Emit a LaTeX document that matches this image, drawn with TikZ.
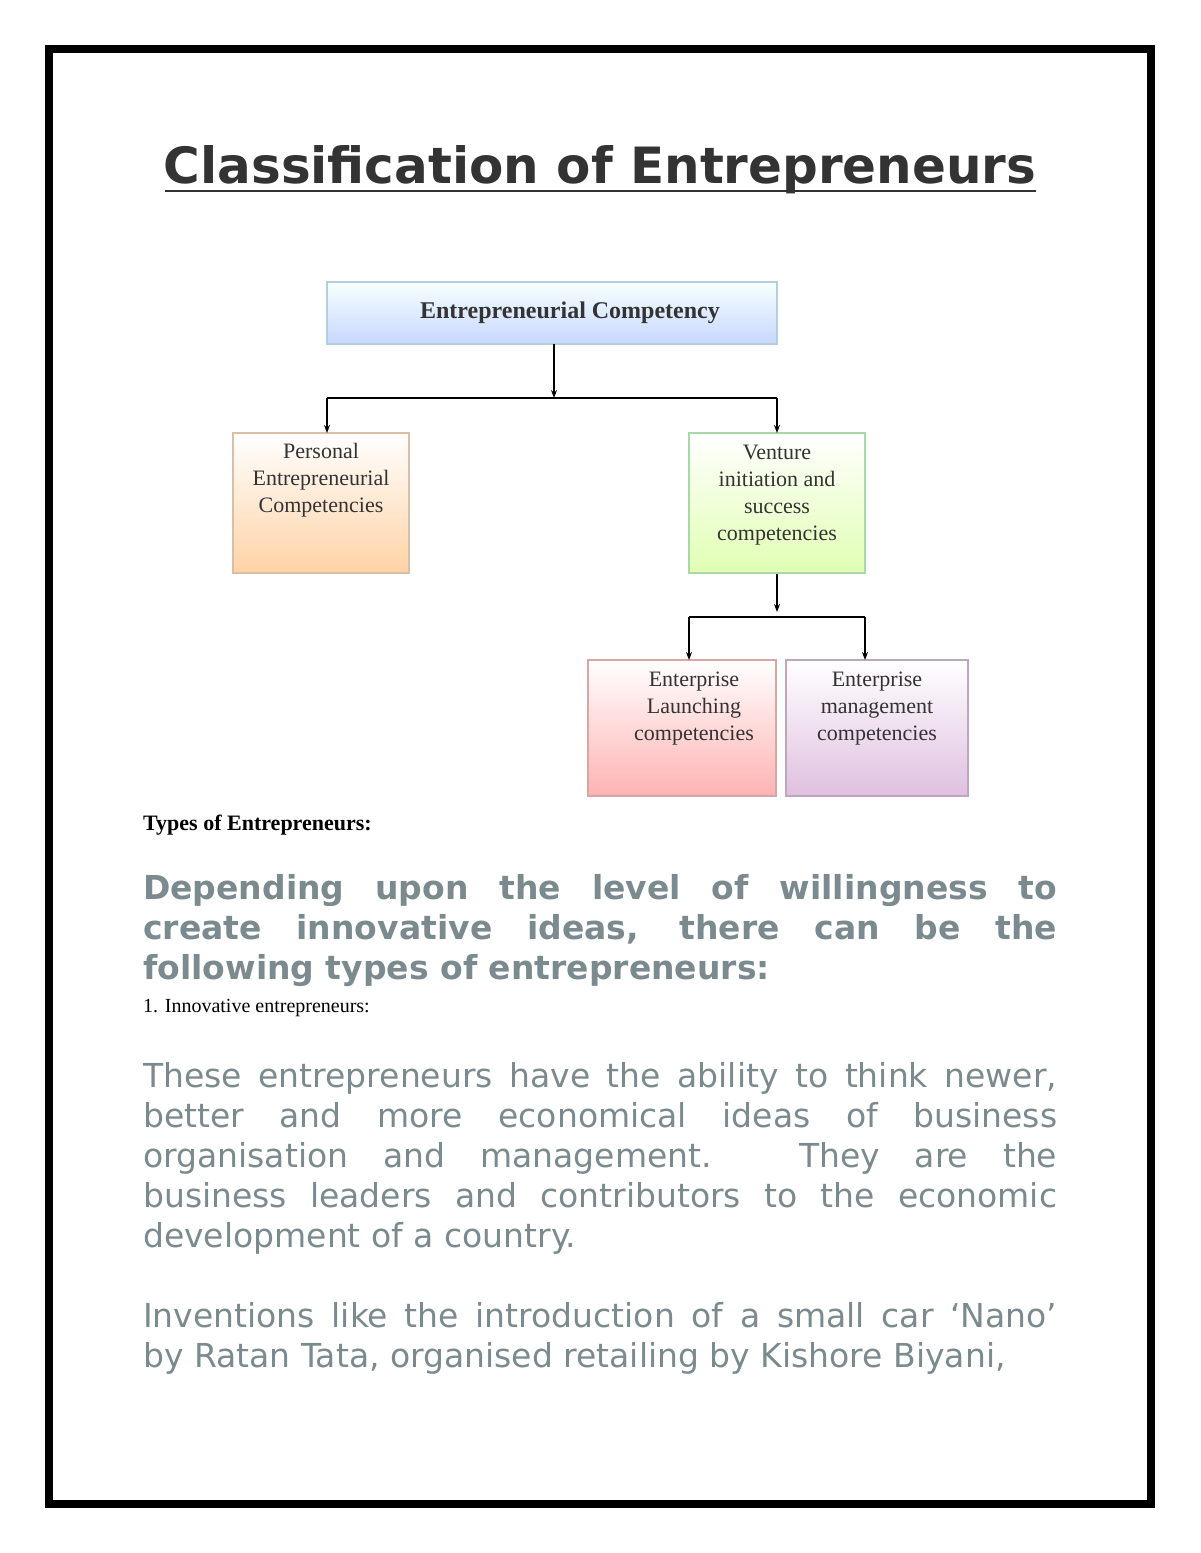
\documentclass[tikz,border=0pt]{standalone}
\usepackage{fontspec}
\setmainfont{Liberation Serif}
\newfontfamily\djv{DejaVu Sans}
\usetikzlibrary{arrows.meta}
\definecolor{gtxt}{HTML}{7B8A8E}
\tikzset{
 bx/.style={draw=#1, line width=1.5pt, minimum width=176pt, minimum height=140pt, align=center, font=\fontsize{22}{27}\selectfont, inner sep=0pt, text=black!80},
 arr/.style={-{Stealth[length=8pt,width=6pt]}, line width=1.3pt},
 ln/.style={line width=1.3pt}
}
\begin{document}
\begin{tikzpicture}[x=1pt,y=-1pt]
\useasboundingbox (0,0) rectangle (1200,1553);
\draw[line width=8pt] (49,49) rectangle (1151,1504);
\node[font=\djv\bfseries\fontsize{50}{55}\selectfont, text=black!80, inner sep=0pt] (title) at (600,170) {Classification of Entrepreneurs};
\draw[line width=2.5pt, black!80] (165,191) -- (1036,191);
% top box
\shade[top color=cyan!3, bottom color=cyan!30!blue!22] (327,282) rectangle (777,344);
\node[bx=cyan!40!gray!50, minimum width=450pt, minimum height=62pt, font=\bfseries\fontsize{24}{27}\selectfont] (top) at (552,313) {\hspace{36pt}Entrepreneurial Competency\vphantom{y}};
\shade[top color=white, bottom color=orange!35] (233,433) rectangle (409,573);
\node[bx=orange!40!gray!50] (pers) at (321,503) {};
\node[align=center, font=\fontsize{22}{27}\selectfont, text=black!80, anchor=north] (perst) at (321,440) {Personal\\Entrepreneurial\\Competencies};
\shade[top color=white, bottom color=green!40!yellow!30] (689,433) rectangle (865,573);
\node[bx=green!40!gray!50] (vent) at (777,503) {};
\node[align=center, font=\fontsize{22}{27}\selectfont, text=black!80] (ventt) at (777,495) {Venture\\initiation and\\success\\competencies};
\shade[top color=white, bottom color=red!30] (588,660) rectangle (776,796);
\node[bx=red!40!gray!50, minimum width=188pt, minimum height=136pt] (laun) at (682,728) {};
\node[align=center, font=\fontsize{22}{27}\selectfont, text=black!80, anchor=north] (launt) at (694,668) {Enterprise\\Launching\\competencies};
\shade[top color=white, bottom color=violet!25] (786,660) rectangle (968,796);
\node[bx=violet!40!gray!50, minimum width=182pt, minimum height=136pt] (mgmt) at (877,728) {};
\node[align=center, font=\fontsize{22}{27}\selectfont, text=black!80, anchor=north] (mgmtt) at (877,668) {Enterprise\\management\\competencies};
% connectors
\coordinate (j1) at (554,398);
\draw[arr] (554,344) -- (j1);
\draw[ln] (327,398) -- (777,398);
\draw[arr] (327,398) -- (327,433);
\draw[arr] (777,398) -- (777,433);
\coordinate (j2) at (777,612);
\draw[arr] (vent.south) -- (j2);
\draw[ln] (689,617) -- (865,617);
\draw[arr] (689,617) -- (689,660);
\draw[arr] (865,617) -- (865,660);
% text
\node[anchor=base west, inner sep=0pt, font=\bfseries\fontsize{22}{26}\selectfont] (types) at (143,830) {Types of Entrepreneurs:};
\node[anchor=north west, text width=914pt, align=justify, inner sep=0pt, text=gtxt, font=\djv\bfseries\fontsize{33}{40}\selectfont] (p1) at (143,874) {\parindent0pt Depending upon the level of willingness to\linebreak create innovative ideas, there can be the\linebreak following types of entrepreneurs:};
\node[anchor=base west, inner sep=0pt, font=\fontsize{20}{24}\selectfont] (inn) at (143,1012) {1. Innovative entrepreneurs:};
\node[anchor=north west, text width=914pt, align=justify, inner sep=0pt, text=gtxt, font=\djv\fontsize{33}{40}\selectfont] (p2) at (143,1062) {\parindent0pt\hbadness=10000\hfuzz=20pt These entrepreneurs have the ability to think newer,\linebreak better and more economical ideas of business\linebreak organisation and management. They are the\linebreak business leaders and contributors to the economic\linebreak development of a country.\par\vspace{40pt}Inventions like the introduction of a small car ‘Nano’\linebreak by Ratan Tata, organised retailing by Kishore Biyani,\par};
\end{tikzpicture}
\end{document}
